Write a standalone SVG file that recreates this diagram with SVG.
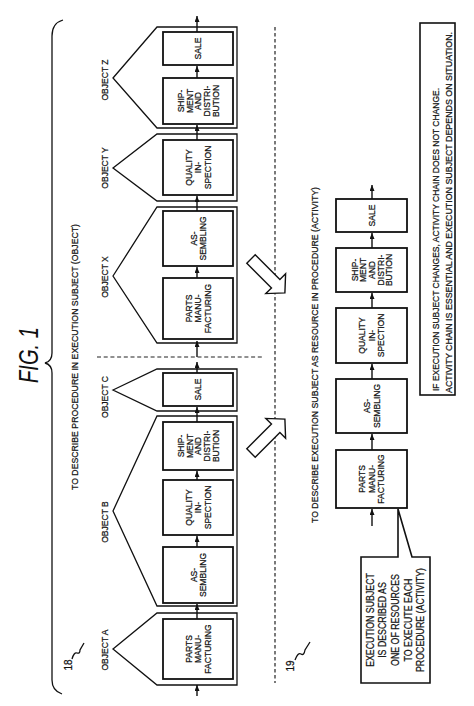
<svg xmlns="http://www.w3.org/2000/svg" width="474" height="706" viewBox="0 0 474 706">
<style>
.bx{fill:#fff;stroke:#111;stroke-width:1.8}
.pg{fill:none;stroke:#111;stroke-width:1.3;stroke-linejoin:miter}
.ar{fill:none;stroke:#111;stroke-width:1.4;marker-end:url(#ah)}
.ln{fill:none;stroke:#111;stroke-width:1.3}
.dash{fill:none;stroke:#222;stroke-width:1.2;stroke-dasharray:3.5 2.5}
.ha{fill:#fff;stroke:#111;stroke-width:1.4;stroke-linejoin:miter}
.t{font-family:"Liberation Sans",Arial,sans-serif;font-size:9.5px;fill:#111;stroke:#111;stroke-width:0.25;text-anchor:middle}
.c{font-family:"Liberation Sans",Arial,sans-serif;font-size:10px;fill:#111;stroke:#111;stroke-width:0.25;text-anchor:middle}
.s{font-family:"Liberation Sans",Arial,sans-serif;font-size:9.5px;fill:#111;stroke:#111;stroke-width:0.25;text-anchor:start}
.fig{font-family:"Liberation Sans",Arial,sans-serif;font-size:27px;font-style:italic;fill:#111;text-anchor:middle}
</style>
<defs>
<marker id="ah" viewBox="0 0 6 5" refX="6" refY="2.5" markerWidth="6" markerHeight="5" markerUnits="userSpaceOnUse" orient="auto">
<path d="M0,0 L6,2.5 L0,5 z" fill="#111"/>
</marker>
</defs>
<rect width="474" height="706" fill="#fff"/>

<!-- title and brace -->
<g id="title">
<text class="fig" transform="translate(28,355) rotate(-90)" y="9.7" textLength="56" lengthAdjust="spacingAndGlyphs">FIG. 1</text>
</g>
<g id="brace">
<path class="ln" d="M63,20 C56,22 52,28 52,36 V353 C52,359 49,362 45,363 C49,364 52,367 52,373 V680 C52,688 56,692 62,694"/>
</g>
<g id="heading18">
<text class="t" transform="translate(75,357) rotate(-90)" y="3.4" textLength="266" lengthAdjust="spacingAndGlyphs">TO DESCRIBE PROCEDURE IN EXECUTION SUBJECT (OBJECT)</text>
<text class="c" transform="translate(68.5,665) rotate(-90)" y="3.6">18</text>
<path class="ln" d="M72,659 Q74,652 77,653 T80,650 L84,643"/>
</g>
<g id="heading19">
<text class="t" transform="translate(315,355) rotate(-90)" y="3.4" textLength="336" lengthAdjust="spacingAndGlyphs">TO DESCRIBE EXECUTION SUBJECT AS RESOURCE IN PROCEDURE (ACTIVITY)</text>
<text class="c" transform="translate(290,666) rotate(-90)" y="3.6">19</text>
<path class="ln" d="M295,660 Q298,652 301,654 T305,650 L310,642"/>
</g>

<!-- dividers -->
<g id="dividers">
<path class="dash" d="M275,27 V683"/>
<path class="dash" d="M97,357 H263" style="stroke-dasharray:4 2.7"/>
</g>

<!-- objects (pentagons) -->
<g id="objA">
<polygon class="pg" points="113,649 157,613 237,613 237,685 157,685"/>
<text class="t" transform="translate(105,650) rotate(-90) scale(0.9,1)" y="3.4">OBJECT A</text>
</g>
<g id="objB">
<polygon class="pg" points="113,511 157,416 237,416 237,606 157,606"/>
<text class="t" transform="translate(105,522) rotate(-90) scale(0.9,1)" y="3.4">OBJECT B</text>
</g>
<g id="objC">
<polygon class="pg" points="113,390 157,369 237,369 237,411 157,411"/>
<text class="t" transform="translate(105,397) rotate(-90) scale(0.9,1)" y="3.4">OBJECT C</text>
</g>
<g id="objX">
<polygon class="pg" points="113,276 157,207 237,207 237,343 157,343"/>
<text class="t" transform="translate(105,277) rotate(-90) scale(0.9,1)" y="3.4">OBJECT X</text>
</g>
<g id="objY">
<polygon class="pg" points="113,168 157,134 237,134 237,201 157,201"/>
<text class="t" transform="translate(105,168) rotate(-90) scale(0.9,1)" y="3.4">OBJECT Y</text>
</g>
<g id="objZ">
<polygon class="pg" points="113,78 157,27 237,27 237,128 157,128"/>
<text class="t" transform="translate(105,80) rotate(-90) scale(0.9,1)" y="3.4">OBJECT Z</text>
</g>

<!-- top activity boxes -->
<g id="a-parts">
<rect class="bx" x="163" y="619" width="70" height="60"/>
<text class="t" transform="translate(198,649) rotate(-90) scale(0.9,1)"><tspan x="0" y="-6.1">PARTS</tspan><tspan x="0" y="3.4">MANU-</tspan><tspan x="0" y="12.9">FACTURING</tspan></text>
</g>
<g id="b-asm">
<rect class="bx" x="163" y="547" width="70" height="56"/>
<text class="t" transform="translate(198,575) rotate(-90) scale(0.9,1)"><tspan x="0" y="-1.35">AS-</tspan><tspan x="0" y="8.15">SEMBLING</tspan></text>
</g>
<g id="b-qual">
<rect class="bx" x="163" y="480" width="70" height="55"/>
<text class="t" transform="translate(198,507.5) rotate(-90) scale(0.9,1)"><tspan x="0" y="-6.1">QUALITY</tspan><tspan x="0" y="3.4">IN-</tspan><tspan x="0" y="12.9">SPECTION</tspan></text>
</g>
<g id="b-ship">
<rect class="bx" x="163" y="422" width="70" height="48"/>
<text class="t" transform="translate(198,446) rotate(-90) scale(0.9,1)"><tspan x="0" y="-14">SHIP-</tspan><tspan x="0" y="-5.3">MENT</tspan><tspan x="0" y="3.4">AND</tspan><tspan x="0" y="12.1">DISTRI-</tspan><tspan x="0" y="20.8">BUTION</tspan></text>
</g>
<g id="c-sale">
<rect class="bx" x="163" y="373" width="70" height="33"/>
<text class="t" transform="translate(198,389.5) rotate(-90) scale(0.9,1)" y="3.4">SALE</text>
</g>
<g id="x-parts">
<rect class="bx" x="163" y="278" width="70" height="61"/>
<text class="t" transform="translate(198,308.5) rotate(-90) scale(0.9,1)"><tspan x="0" y="-6.1">PARTS</tspan><tspan x="0" y="3.4">MANU-</tspan><tspan x="0" y="12.9">FACTURING</tspan></text>
</g>
<g id="x-asm">
<rect class="bx" x="163" y="211" width="70" height="55"/>
<text class="t" transform="translate(198,238.5) rotate(-90) scale(0.9,1)"><tspan x="0" y="-1.35">AS-</tspan><tspan x="0" y="8.15">SEMBLING</tspan></text>
</g>
<g id="y-qual">
<rect class="bx" x="163" y="140" width="70" height="55"/>
<text class="t" transform="translate(198,167.5) rotate(-90) scale(0.9,1)"><tspan x="0" y="-6.1">QUALITY</tspan><tspan x="0" y="3.4">IN-</tspan><tspan x="0" y="12.9">SPECTION</tspan></text>
</g>
<g id="z-ship">
<rect class="bx" x="163" y="78" width="70" height="46"/>
<text class="t" transform="translate(198,101) rotate(-90) scale(0.9,1)"><tspan x="0" y="-14">SHIP-</tspan><tspan x="0" y="-5.3">MENT</tspan><tspan x="0" y="3.4">AND</tspan><tspan x="0" y="12.1">DISTRI-</tspan><tspan x="0" y="20.8">BUTION</tspan></text>
</g>
<g id="z-sale">
<rect class="bx" x="163" y="32" width="70" height="33"/>
<text class="t" transform="translate(198,48.5) rotate(-90) scale(0.9,1)" y="3.4">SALE</text>
</g>

<!-- bottom activity boxes -->
<g id="r-parts">
<rect class="bx" x="336" y="450" width="71" height="58"/>
<text class="t" transform="translate(371.5,479) rotate(-90) scale(0.9,1)"><tspan x="0" y="-6.1">PARTS</tspan><tspan x="0" y="3.4">MANU-</tspan><tspan x="0" y="12.9">FACTURING</tspan></text>
</g>
<g id="r-asm">
<rect class="bx" x="336" y="379" width="71" height="54"/>
<text class="t" transform="translate(371.5,406) rotate(-90) scale(0.9,1)"><tspan x="0" y="-1.35">AS-</tspan><tspan x="0" y="8.15">SEMBLING</tspan></text>
</g>
<g id="r-qual">
<rect class="bx" x="336" y="308" width="71" height="55"/>
<text class="t" transform="translate(371.5,335.5) rotate(-90) scale(0.9,1)"><tspan x="0" y="-6.1">QUALITY</tspan><tspan x="0" y="3.4">IN-</tspan><tspan x="0" y="12.9">SPECTION</tspan></text>
</g>
<g id="r-ship">
<rect class="bx" x="336" y="248" width="71" height="44"/>
<text class="t" transform="translate(371.5,270) rotate(-90) scale(0.9,1)"><tspan x="0" y="-14">SHIP-</tspan><tspan x="0" y="-5.3">MENT</tspan><tspan x="0" y="3.4">AND</tspan><tspan x="0" y="12.1">DISTRI-</tspan><tspan x="0" y="20.8">BUTION</tspan></text>
</g>
<g id="r-sale">
<rect class="bx" x="336" y="199" width="71" height="33"/>
<text class="t" transform="translate(371.5,215.5) rotate(-90) scale(0.9,1)" y="3.4">SALE</text>
</g>

<!-- callout -->
<g id="callout">
<path class="bx" d="M361,557 H398 V509 L412,557 H430 V683 H361 Z" style="stroke-width:1.6;stroke-linejoin:miter"/>
<text class="c" transform="translate(395.5,620) rotate(-90) scale(0.88,1)"><tspan x="0" y="-21.8">EXECUTION SUBJECT</tspan><tspan x="0" y="-9.1">IS DESCRIBED AS</tspan><tspan x="0" y="3.6">ONE OF RESOURCES</tspan><tspan x="0" y="16.3">TO EXECUTE EACH</tspan><tspan x="0" y="29">PROCEDURE (ACTIVITY)</tspan></text>
</g>

<!-- note -->
<g id="note">
<rect class="bx" x="420" y="23" width="35" height="372" style="stroke-width:1.6"/>
<text class="s" transform="translate(438.5,391) rotate(-90)" textLength="303" lengthAdjust="spacingAndGlyphs">IF EXECUTION SUBJECT CHANGES, ACTIVITY CHAIN DOES NOT CHANGE.</text>
<text class="s" transform="translate(451.5,393) rotate(-90)" textLength="361" lengthAdjust="spacingAndGlyphs">ACTIVITY CHAIN IS ESSENTIAL AND EXECUTION SUBJECT DEPENDS ON SITUATION.</text>
</g>

<!-- connectors -->
<g id="connectors">
<path class="ar" d="M197,696 V685"/>
<path class="ar" d="M197,619 V604"/>
<path class="ar" d="M197,547 V536"/>
<path class="ar" d="M197,480 V471"/>
<path class="ar" d="M197,422 V407"/>
<path class="ar" d="M197,373 V362"/>
<path class="ar" d="M197,357 V341"/>
<path class="ar" d="M197,278 V267"/>
<path class="ar" d="M197,211 V196"/>
<path class="ar" d="M197,140 V125"/>
<path class="ar" d="M197,78 V66"/>
<path class="ar" d="M197,32 V16"/>
<path class="ar" d="M372,526 V509"/>
<path class="ar" d="M372,450 V434"/>
<path class="ar" d="M372,379 V364"/>
<path class="ar" d="M372,308 V293"/>
<path class="ar" d="M372,248 V233"/>
<path class="ar" d="M372,199 V185"/>
<polygon class="ha" points="255.2,254.8 279.9,279.5 285.6,273.8 284.9,292.9 265.8,293.6 271.5,287.9 246.8,263.2"/>
<polygon class="ha" points="255.2,457.2 279.9,432.5 285.6,438.2 284.9,419.1 265.8,418.4 271.5,424.1 246.8,448.8"/>
</g>
</svg>
